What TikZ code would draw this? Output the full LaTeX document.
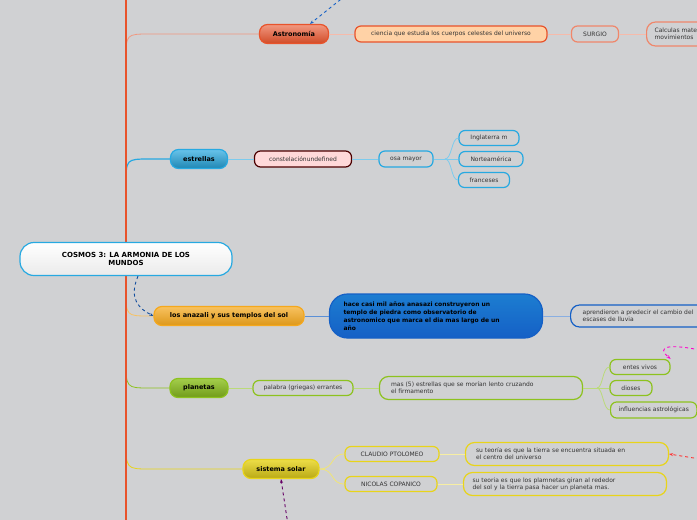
\documentclass[tikz,border=0pt]{standalone}
\usepackage{fontspec}
\setmainfont{DejaVu Sans}
\usetikzlibrary{arrows.meta,calc}
\definecolor{bg}{HTML}{D0D1D3}
\definecolor{ored}{HTML}{E8532B}
\definecolor{sky}{HTML}{27A9E1}
\definecolor{dblue}{HTML}{1560C6}
\definecolor{gold}{HTML}{F5A81C}
\definecolor{lgreen}{HTML}{8DC21F}
\definecolor{yel}{HTML}{E8D41A}
\tikzset{
 bx/.style={rounded corners=6pt,draw,line width=1.2pt,inner sep=2pt,font=\fontsize{6}{7}\selectfont,align=left,text=black!80},
 mainbx/.style={bx,rounded corners=8pt,font=\bfseries\fontsize{6.5}{7.5}\selectfont,text=black,minimum height=19pt},
 dsh/.style={dashed,line width=0.9pt,-{Stealth[length=4pt]}},
 br/.style={line width=0.8pt}
}
\begin{document}
\begin{tikzpicture}[x=1pt,y=-1pt]
\fill[bg] (0,0) rectangle (697,520);
\useasboundingbox (0,0) rectangle (697,520);
% branches
\draw[ored!60,br] (126,60) .. controls (126,34) .. (150,34) -- (260,34);
\draw[sky,line width=1.2pt] (126,243) -- (126,185) .. controls (126,159) .. (150,159) -- (171,159);
\draw[gold!70,br] (126,276) -- (126,290) .. controls (126,316) .. (150,316) -- (154,316);
\draw[lgreen,br] (126,276) -- (126,360) .. controls (126,388) .. (150,388) -- (170,388);
\draw[yel,br] (126,440) .. controls (126,469) .. (150,469) -- (243,469);
\draw[ored,line width=2.5pt] (126,0) -- (126,520);
\node[bx,draw=sky,top color=white,bottom color=black!8,rounded corners=14pt,minimum width=212pt,minimum height=33pt,align=center,font=\bfseries\fontsize{7}{8.5}\selectfont,text=black] (root) at (126,259) {COSMOS 3: LA ARMONIA DE LOS\\MUNDOS};
% main nodes
\node[mainbx,draw=ored,top color=ored!60,bottom color=ored!90!black,minimum width=69pt] (ast) at (294,34) {Astronomía};
\node[mainbx,draw=sky,top color=sky!70,bottom color=sky!80!black,minimum width=57pt] (est) at (199,159) {estrellas};
\node[mainbx,draw=gold,top color=gold!70,bottom color=gold!90!black,minimum width=150pt] (ana) at (229,316) {los anazali y sus templos del sol};
\node[mainbx,draw=lgreen,top color=lgreen!80,bottom color=lgreen!80!black,minimum width=58pt] (pla) at (199,388) {planetas};
\node[mainbx,draw=yel,top color=yel!80,bottom color=yel!80!black,minimum width=76pt] (sol) at (281,469) {sistema solar};
% astronomia
\node[bx,draw=ored,fill=orange!35,minimum width=192pt,minimum height=16pt,align=center] (cie) at (451,34) {ciencia que estudia los cuerpos celestes del universo};
\node[bx,draw=ored!70,minimum width=47pt,minimum height=16pt,align=center] (sur) at (595,34) {SURGIO};
\node[bx,draw=ored!70,anchor=west,minimum height=24pt,rounded corners=9pt,inner xsep=8pt] (cal) at (646,34) {Calculas matemáticas\\movimientos};
\draw[ored!40,br] (ast) -- (cie); \draw[ored!40,br] (cie) -- (sur); \draw[ored!40,br] (sur) -- (cal);
% estrellas
\node[bx,draw=red!30!black,fill=pink!60,minimum width=97pt,minimum height=16pt,align=center] (con) at (303,159) {constelaciónundefined};
\node[bx,draw=sky,minimum width=54pt,minimum height=16pt,align=center] (osa) at (406,159) {osa mayor};
\node[bx,draw=sky,minimum width=60pt,minimum height=15pt,align=center] (ing) at (489,138) {Inglaterra m};
\node[bx,draw=sky,minimum width=64pt,minimum height=15pt,align=center] (nor) at (491,159) {Norteamérica};
\node[bx,draw=sky,minimum width=51pt,minimum height=15pt,align=center] (fra) at (484,180) {franceses};
\draw[sky!60,br] (est) -- (con); \draw[sky!60,br] (con) -- (osa);
\coordinate (oj) at (445,159);
\draw[sky!60,br] (osa) -- (oj);
\foreach \n in {ing,nor,fra} \draw[sky!60,br] (oj) .. controls (452,159) and ($(\n.west)+(-7,0)$) .. (\n.west);
% anazali
\node[bx,draw=dblue,top color=dblue!60!sky,bottom color=dblue,rounded corners=18pt,minimum width=213pt,minimum height=44pt,text width=185pt,font=\bfseries\fontsize{6}{8}\selectfont,text=black] (hac) at (436,316) {hace casi mil años anasazi construyeron un\\templo de piedra como observatorio de\\astronomico que marca el dia mas largo de un\\año};
\node[bx,draw=dblue,anchor=west,minimum height=22pt,rounded corners=9pt,inner xsep=12pt] (apr) at (570,316) {aprendieron a predecir el cambio del\\escases de lluvia};
\draw[dblue!70,br] (ana) -- (hac); \draw[dblue!50,br] (hac) -- (apr);
% planetas
\node[bx,draw=lgreen,minimum width=100pt,minimum height=15pt,align=center] (pal) at (303,388) {palabra (griegas) errantes};
\node[bx,draw=lgreen,minimum width=203pt,minimum height=23pt,rounded corners=9pt,text width=180pt] (mas) at (481,388) {mas (5) estrellas que se morían lento cruzando\\el firmamento};
\node[bx,draw=lgreen,minimum width=60pt,minimum height=15pt,align=center] (ent) at (640,367) {entes vivos};
\node[bx,draw=lgreen,minimum width=42pt,minimum height=15pt,align=center] (dio) at (631,388) {dioses};
\node[bx,draw=lgreen,anchor=west,minimum height=16pt,inner xsep=8pt] (inf) at (610,410) {influencias astrológicas};
\draw[lgreen!60,br] (pla) -- (pal); \draw[lgreen!60,br] (pal) -- (mas);
\coordinate (mj) at (597,388);
\draw[lgreen!60,br] (mas) -- (mj);
\foreach \n in {ent,dio,inf} \draw[lgreen!60,br] (mj) .. controls (603,388) and ($(\n.west)+(-7,0)$) .. (\n.west);
% sistema solar
\node[bx,draw=yel,minimum width=94pt,minimum height=15pt,align=center] (cla) at (392,454) {CLAUDIO PTOLOMEO};
\node[bx,draw=yel,minimum width=92pt,minimum height=15pt,align=center] (nic) at (391,484) {NICOLAS COPANICO};
\node[bx,draw=yel,minimum width=203pt,minimum height=23pt,rounded corners=9pt,text width=182pt] (tp) at (567,454) {su teoría es que la tierra se encuentra situada en\\el centro del universo};
\node[bx,draw=yel,minimum width=203pt,minimum height=23pt,rounded corners=9pt,text width=185pt] (tn) at (565,484) {su teoria es que los plamnetas giran al rededor\\del sol y la tierra pasa hacer un planeta mas.};
\draw[yel!60,br] (sol.east) .. controls (335,469) and (330,454) .. (cla.west);
\draw[yel!60,br] (sol.east) .. controls (335,469) and (330,484) .. (nic.west);
\draw[yel!40,br] (cla) -- (tp); \draw[yel!40,br] (nic) -- (tn);
% dashed relations
\coordinate (d1) at (350,-8);
\coordinate (d3) at (700,350);
\coordinate (d4) at (700,459);
\coordinate (d5) at (288,525);
\draw[dsh,dblue] (d1) -- ($(ast.north)+(16,0)$);
\draw[dsh,dblue!80!black] ($(root.south)+(12,0)$) .. controls (128,300) and (140,309) .. (ana.west);
\draw[dsh,red!20!magenta] (d3) .. controls (670,344) and (655,346) .. (ent.north east);
\draw[dsh,red!80] (d4) -- (tp.east);
\draw[dsh,violet!80!black] (d5) -- (sol.south);
\end{tikzpicture}
\end{document}
